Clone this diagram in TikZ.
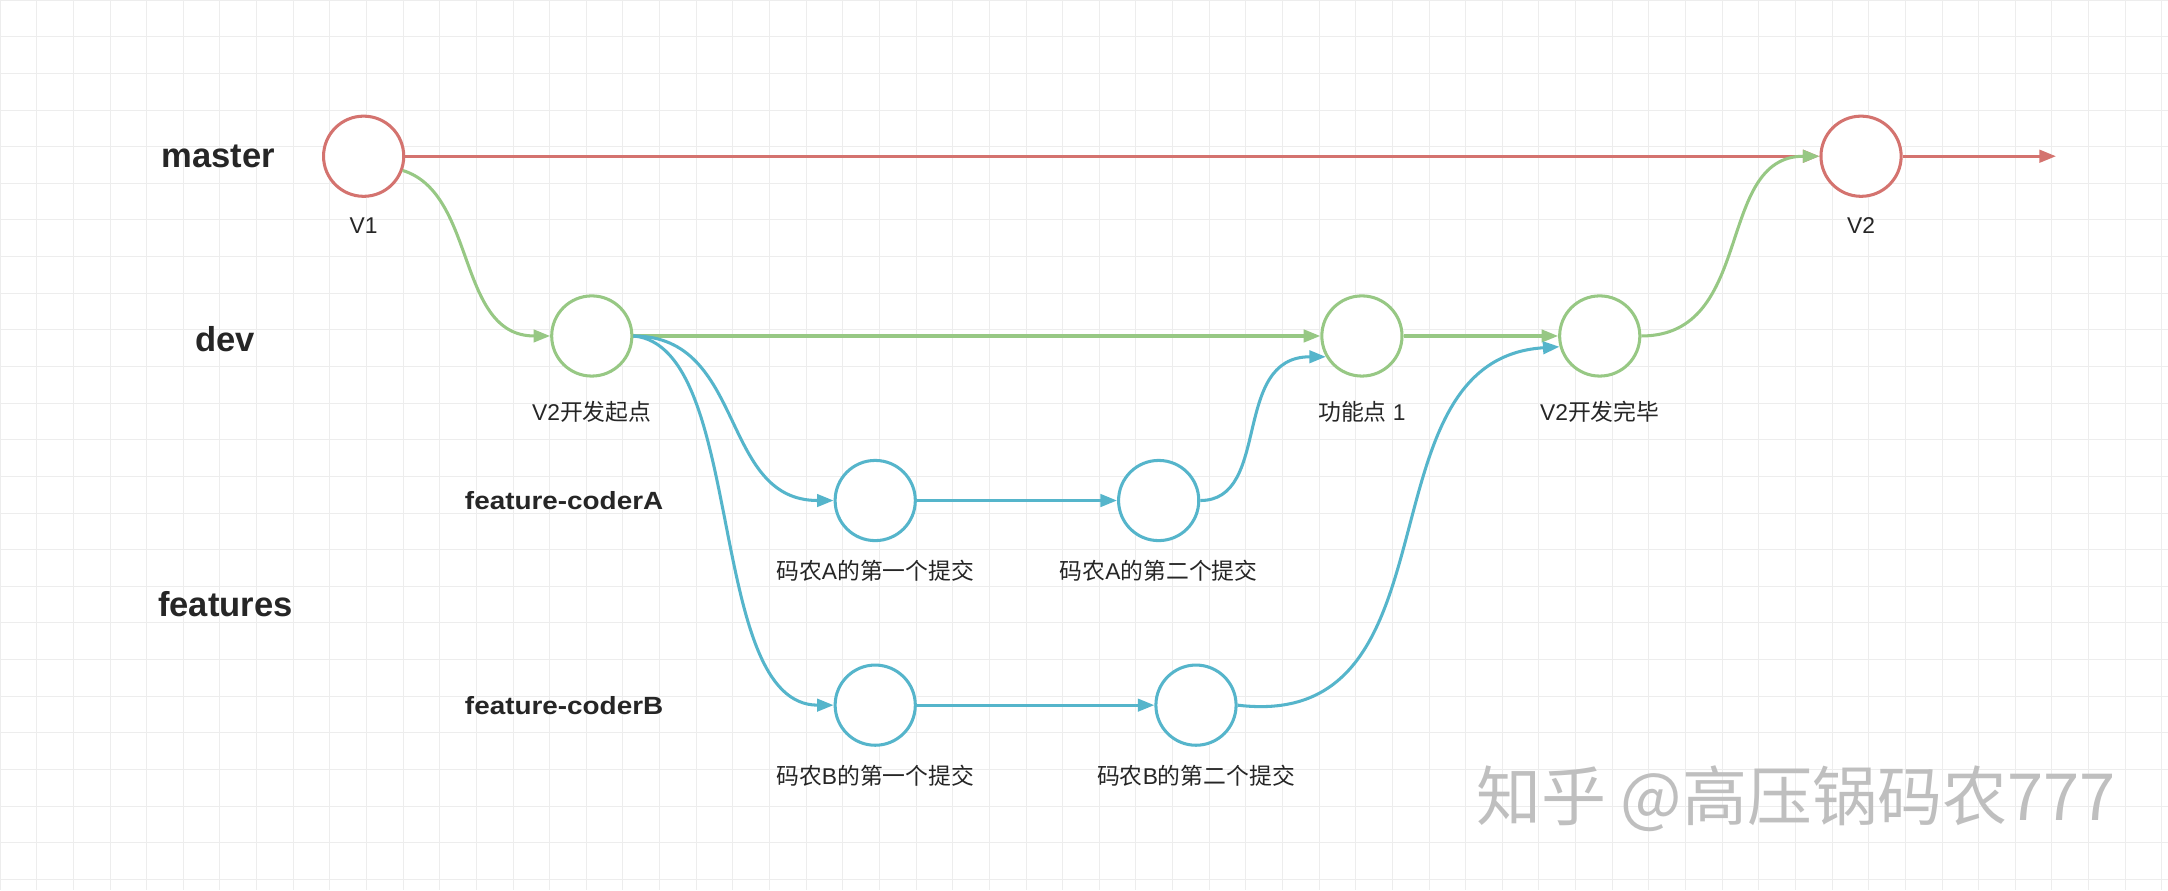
\documentclass[tikz,border=0pt]{standalone}
\usepackage{fontspec}
\setmainfont{Liberation Sans}
\newfontfamily\cjk{Noto Sans CJK SC}
\usetikzlibrary{arrows.meta}
\definecolor{cred}{HTML}{D4736F}
\definecolor{cgreen}{HTML}{97C884}
\definecolor{cblue}{HTML}{55B5CB}
\begin{document}
\begin{tikzpicture}[x=1pt,y=-1pt,
  commit/.style={circle,draw,line width=2.2pt,minimum size=58pt,inner sep=0pt,fill=white},
  lbl/.style={font=\fontsize{16.5}{18}\selectfont,text=black!85},
  br/.style={font=\bfseries\fontsize{25}{28}\selectfont,text=black!85},
  bsub/.style={font=\bfseries\fontsize{18}{20}\selectfont,text=black!85},
  edge/.style={line width=2.2pt,-{Triangle[length=12pt,width=9pt]}}]
\fill[white] (0,0) rectangle (1568,644);
\useasboundingbox (0,0) rectangle (1568,644);
\foreach \i in {0,...,60} {\draw[black!7,line width=0.6pt] (\i*26.5,0) -- (\i*26.5,644);}
\foreach \i in {0,...,25} {\draw[black!7,line width=0.6pt] (0,\i*26.5) -- (1568,\i*26.5);}
% labels
\node[br] (lm) at (158,113) {master};
\node[br] (ld) at (163,245) {dev};
\node[br] (lf) at (163,437) {features};
\node[bsub,xscale=1.12] (la) at (408,362) {feature-coderA};
\node[bsub,xscale=1.12] (lb) at (408,510) {feature-coderB};
% commits
\node[commit,draw=cred] (v1) at (263,113) {};
\node[commit,draw=cred] (v2) at (1346,113) {};
\node[commit,draw=cgreen] (d1) at (428,243) {};
\node[commit,draw=cgreen] (d2) at (985,243) {};
\node[commit,draw=cgreen] (d3) at (1157,243) {};
\node[commit,draw=cblue] (a1) at (633,362) {};
\node[commit,draw=cblue] (a2) at (838,362) {};
\node[commit,draw=cblue] (b1) at (633,510) {};
\node[commit,draw=cblue] (b2) at (865,510) {};
\coordinate (mend) at (1487,113);
% edges
\draw[edge,cred] (v1.east) -- (v2.west);
\draw[edge,cred] (v2.east) -- (mend);
\draw[edge,cgreen] (v1.-20) .. controls (345,140) and (330,243) .. (d1.west);
\draw[edge,cgreen] (d1.east) -- (d2.west);
\draw[edge,cgreen] (d2.east) -- (d3.west);
\draw[edge,cgreen] (d3.east) .. controls (1270,243) and (1240,113) .. (v2.west);
\draw[edge,cblue] (d1.east) .. controls (540,243) and (520,362) .. (a1.west);
\draw[edge,cblue] (d1.east) .. controls (540,250) and (510,510) .. (b1.west);
\draw[edge,cblue] (a1.east) -- (a2.west);
\draw[edge,cblue] (b1.east) -- (b2.west);
\draw[edge,cblue] (a2.east) .. controls (920,362) and (890,258) .. (d2.-150);
\draw[edge,cblue] (b2.east) .. controls (1060,530) and (980,260) .. (d3.-165);
% commit labels
\node[lbl] (t1) at (263,163) {V1};
\node[lbl] (t2) at (1346,163) {V2};
\node[lbl] (t3) at (428,298) {V2{\cjk 开发起点}};
\node[lbl] (t4) at (985,298) {{\cjk 功能点} 1};
\node[lbl] (t5) at (1157,298) {V2{\cjk 开发完毕}};
\node[lbl] (t6) at (633,413) {{\cjk 码农}A{\cjk 的第一个提交}};
\node[lbl] (t7) at (838,413) {{\cjk 码农}A{\cjk 的第二个提交}};
\node[lbl] (t8) at (633,561) {{\cjk 码农}B{\cjk 的第一个提交}};
\node[lbl] (t9) at (865,561) {{\cjk 码农}B{\cjk 的第二个提交}};
\node[font=\cjk\fontsize{47}{50}\selectfont,text=black!25] (wm) at (1299,578) {知乎 @高压锅码农777};
\end{tikzpicture}
\end{document}
